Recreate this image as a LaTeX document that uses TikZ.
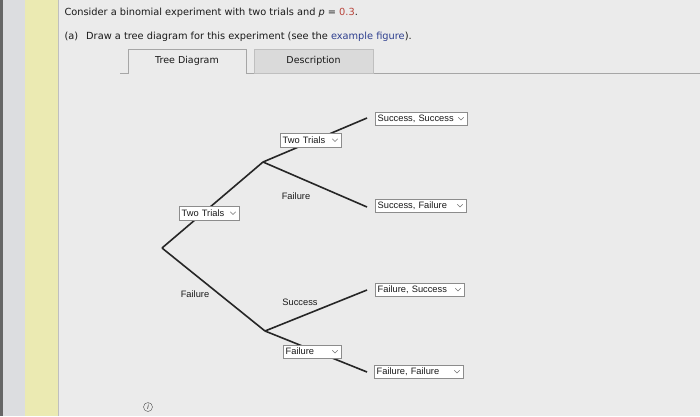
\documentclass[tikz,border=0pt]{standalone}
\usepackage{fontspec}
\setmainfont{DejaVu Sans}
\newfontfamily\boxfont{Liberation Sans}
\usetikzlibrary{positioning}
\definecolor{pagegray}{HTML}{EBEBEB}
\definecolor{sidegray}{HTML}{DCDDE0}
\definecolor{sideyellow}{HTML}{EBEAB2}
\definecolor{tabgray}{HTML}{DADADA}
\definecolor{valred}{HTML}{B8433A}
\definecolor{linkblue}{HTML}{2E3F8F}

\begin{document}
\begin{tikzpicture}[x=1pt,y=-1pt,
    branch/.style={line width=1.6pt, draw=black!85},
    dropbox/.style={draw=black!45, fill=white, anchor=west, font=\boxfont\fontsize{9.3}{11}\selectfont, text=black!90, inner xsep=2.5pt, inner ysep=1.5pt, minimum height=13.5pt, align=left},
    tlabel/.style={font=\boxfont\fontsize{9.3}{11}\selectfont, text=black!90},
    chev/.style={draw=black!55, line width=0.5pt},
    tabtext/.style={font=\fontsize{9.5}{11}\selectfont, text=black!90}]

    % page and side strips
    \fill[pagegray] (0,0) rectangle (700,416);
    \useasboundingbox (0,0) rectangle (700,416);
    \fill[black!60] (0,0) rectangle (3,416);
    \fill[sidegray] (3,0) rectangle (25,416);
    \fill[sideyellow] (25,0) rectangle (58,416);
    \draw[black!25] (58,0) -- (58,416);

    % question text
    \node[anchor=west, font=\fontsize{9.8}{12}\selectfont, text=black!90] (q) at (61,13)
        {Consider a binomial experiment with two trials and \textit{p} = \textcolor{valred}{0.3}.};
    \node[anchor=west, font=\fontsize{9.8}{12}\selectfont, text=black!90] (qa) at (61,37)
        {(a)\hspace{8pt}Draw a tree diagram for this experiment (see the \textcolor{linkblue}{example figure}).};

    % tabs
    \draw[black!35, line width=0.8pt] (120,73.5) -- (128,73.5) -- (128,49) -- (246,49) -- (246,73.5) -- (700,73.5);
    \filldraw[fill=tabgray, draw=black!25] (254,49) rectangle (373,73.5);
    \node[tabtext] (tree) at (187,61) {Tree Diagram};
    \node[tabtext] (desc) at (313.5,61) {Description};

    % tree points
    \coordinate (root) at (162,248);
    \coordinate (up) at (263,162);
    \coordinate (low) at (265,331);
    \coordinate (ss) at (367,118);
    \coordinate (sf) at (367,207);
    \coordinate (fs) at (367,290);
    \coordinate (ff) at (367,372);

    \draw[branch] (root) -- (up);
    \draw[branch] (root) -- (low);
    \draw[branch] (up) -- (ss);
    \draw[branch] (up) -- (sf);
    \draw[branch] (low) -- (fs);
    \draw[branch] (low) -- (ff);

    % drop-down boxes
    \node[dropbox, text width=55pt] (first) at (179,213) {Two Trials};
    \node[dropbox, text width=56pt] (second) at (280,140) {Two Trials};
    \node[dropbox, text width=53pt] (lowfail) at (283,351.5) {Failure};
    \node[dropbox, text width=87pt] (boxss) at (375,118.5) {Success, Success};
    \node[dropbox, text width=86pt] (boxsf) at (375,205.5) {Success, Failure};
    \node[dropbox, text width=84pt] (boxfs) at (375,289.5) {Failure, Success};
    \node[dropbox, text width=84pt] (boxff) at (374,371.5) {Failure, Failure};

    \foreach \n in {first,second,lowfail,boxss,boxsf,boxfs,boxff}
        \draw[chev] ([shift={(-9,-1.2)}]\n.east) -- ++(2.6,2.6) -- ++(2.6,-2.6);

    % plain labels
    \node[tlabel] (upfail) at (296,196) {Failure};
    \node[tlabel] (rootfail) at (195,294) {Failure};
    \node[tlabel] (lowsucc) at (300,302) {Success};

    % info icon
    \node[draw=black!70, circle, inner sep=0pt, minimum size=9pt, font=\fontsize{7}{7}\selectfont\itshape, text=black!80] (info) at (148,407) {i};

\end{tikzpicture}
\end{document}
